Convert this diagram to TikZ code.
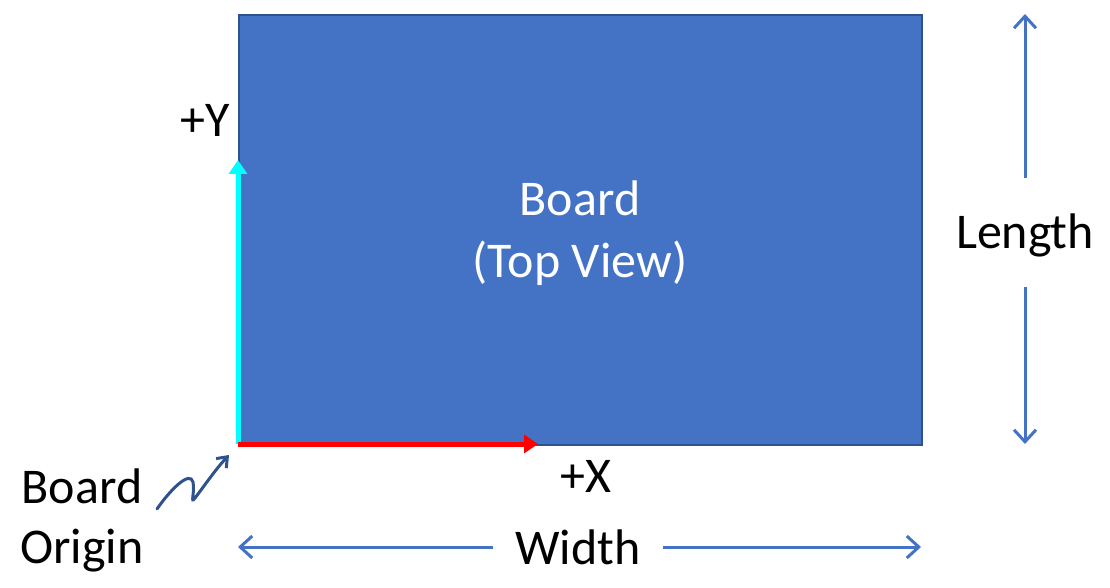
\documentclass[tikz,border=0pt]{standalone}
\usepackage{fontspec}
\setmainfont{Carlito}
\usetikzlibrary{arrows.meta}
\definecolor{boardfill}{HTML}{4472C4}
\definecolor{boardedge}{HTML}{2F528F}
\definecolor{cyanax}{HTML}{00FFFF}
\begin{document}
\begin{tikzpicture}[x=1pt,y=-1pt,
  lbl/.style={font=\fontsize{50}{60}\selectfont,inner sep=0pt},
  dim/.style={draw=boardfill,line width=3pt,-{Straight Barb[length=12pt,width=22pt]}}]
\useasboundingbox (0,0) rectangle (1110,588);
\node[draw=boardedge,fill=boardfill,line width=2pt,minimum width=683pt,minimum height=430pt,anchor=north west,inner sep=0pt] (board) at (238,14) {};
\node[lbl,text=white,align=center] (title) at (580,233) {Board\\[2pt](Top View)};
\coordinate (o) at (238,444);
\coordinate (ytip) at (238,160);
\coordinate (xtip) at (538,444);
\draw[cyanax,line width=5pt,-{Triangle[length=14pt,width=18pt]}] (o) -- (ytip);
\draw[red,line width=5pt,-{Triangle[length=14pt,width=18pt]}] (o) -- (xtip);
\node[lbl] (ylab) at (205,120) {+Y};
\node[lbl] (xlab) at (586,476) {+X};
\node[lbl,align=center] (orig) at (82,520) {Board\\[0pt]Origin};
\node[lbl] (len) at (1025,235) {Length};
\coordinate (lt) at (1025,14); \coordinate (lb) at (1025,444);
\draw[dim] (len.north) ++(0,-35) -- (lt);
\draw[dim] (len.south) ++(0,30) -- (lb);
\node[lbl] (wid) at (578,547) {Width};
\coordinate (wl) at (238,547); \coordinate (wr) at (921,547);
\draw[dim] (wid.west) ++(-22,0) -- (wl);
\draw[dim] (wid.east) ++(22,0) -- (wr);
\coordinate (sq) at (157,509);
\coordinate (sqe) at (229,455);
\draw[boardedge,line width=3pt,line cap=round,-{Straight Barb[length=9pt,width=14pt]}] (sq) .. controls (170,490) and (190,470) .. (193,482) .. controls (195,492) and (190,505) .. (195,498) .. controls (205,485) and (215,470) .. (sqe);
\end{tikzpicture}
\end{document}
